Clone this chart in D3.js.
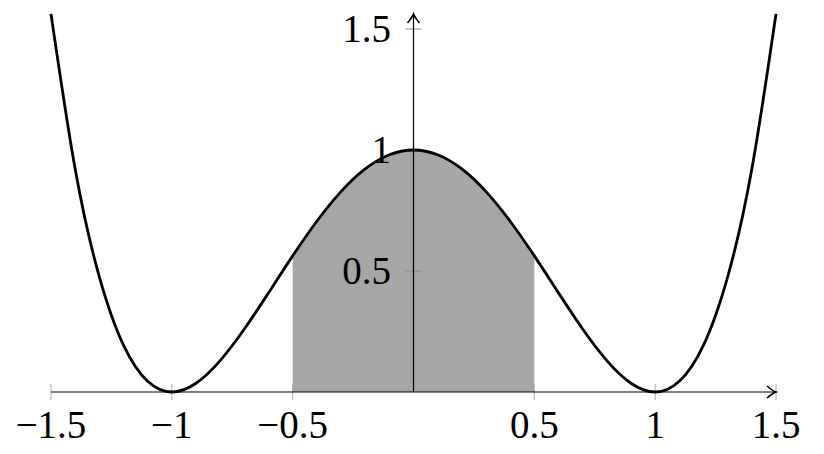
<!DOCTYPE html>
<html>
<head>
<meta charset="utf-8">
<script src="https://cdn.jsdelivr.net/npm/d3@7"></script>
<style>
  body { margin: 0; background: #fff; }
  text { font-family: "Liberation Serif", "DejaVu Serif", serif; }
</style>
</head>
<body>
<div id="chart"></div>
<script>
// curve samples
var xs = [-1.5, -1.4, -1.3, -1.2, -1.1, -1.0, -0.9, -0.8, -0.7, -0.6, -0.5, -0.4, -0.3, -0.2, -0.1,
          0, 0.1, 0.2, 0.3, 0.4, 0.5, 0.6, 0.7, 0.8, 0.9, 1.0, 1.1, 1.2, 1.3, 1.4, 1.5];
var ys = [1.5625, 0.9216, 0.4761, 0.1936, 0.0441, 0, 0.0361, 0.1296, 0.2601, 0.4096, 0.5625, 0.7056, 0.8281, 0.9216, 0.9801,
          1, 0.9801, 0.9216, 0.8281, 0.7056, 0.5625, 0.4096, 0.2601, 0.1296, 0.0361, 0, 0.0441, 0.1936, 0.4761, 0.9216, 1.5625];
var shadeFrom = -0.5, shadeTo = 0.5;
var xTicks = [-1.5, -1, -0.5, 0.5, 1, 1.5];
var yTicks = [0.5, 1, 1.5];

var svg_dx = 824, svg_dy = 454;

var x = d3.scaleLinear().domain([-1.5, 1.5]).range([51, 776]),
    y = d3.scaleLinear().domain([0, 1]).range([392, 150]);

var fmt = function (d) { return String(d).replace("-", "\u2212"); };

var svg = d3.select("#chart")
            .append("svg")
            .attr("width", svg_dx)
            .attr("height", svg_dy);

var pts = xs.map(function (v, i) { return {x: v, y: ys[i]}; });
var shadePts = pts.filter(function (d) { return d.x >= shadeFrom - 1e-9 && d.x <= shadeTo + 1e-9; });

// shaded region
svg.append("path")
   .datum(shadePts)
   .attr("fill", "#a6a6a6")
   .attr("d", d3.area().curve(d3.curveNatural)
                .x(function (d) { return x(d.x); })
                .y0(y(0))
                .y1(function (d) { return y(d.y); }));

// ticks (gray)
svg.append("g").selectAll("line")
   .data(xTicks).enter().append("line")
   .attr("x1", function (d) { return x(d); })
   .attr("x2", function (d) { return x(d); })
   .attr("y1", y(0) - 8).attr("y2", y(0) + 8)
   .attr("stroke", "#aaa").attr("stroke-width", 1);

svg.append("g").selectAll("line")
   .data(yTicks).enter().append("line")
   .attr("x1", x(0) - 8).attr("x2", x(0) + 8)
   .attr("y1", function (d) { return y(d); })
   .attr("y2", function (d) { return y(d); })
   .attr("stroke", "#888").attr("stroke-width", 1);

// axes
svg.append("line")
   .attr("x1", x(-1.5)).attr("x2", x(1.5) - 1)
   .attr("y1", y(0)).attr("y2", y(0))
   .attr("stroke", "#000").attr("stroke-width", 1.2);
svg.append("line")
   .attr("x1", x(0)).attr("x2", x(0))
   .attr("y1", y(0)).attr("y2", 15)
   .attr("stroke", "#000").attr("stroke-width", 1.2);

// arrow heads
var ax = x(1.5), ay = y(0);
svg.append("path")
   .attr("d", "M" + (ax - 9) + "," + (ay - 6) + " Q" + (ax - 3) + "," + (ay - 1) + " " + ax + "," + ay +
              " Q" + (ax - 3) + "," + (ay + 1) + " " + (ax - 9) + "," + (ay + 6))
   .attr("fill", "none").attr("stroke", "#000").attr("stroke-width", 1.6);
var bx = x(0), by = 14;
svg.append("path")
   .attr("d", "M" + (bx - 6) + "," + (by + 9) + " Q" + (bx - 1) + "," + (by + 3) + " " + bx + "," + by +
              " Q" + (bx + 1) + "," + (by + 3) + " " + (bx + 6) + "," + (by + 9))
   .attr("fill", "none").attr("stroke", "#000").attr("stroke-width", 1.6);

// curve
svg.append("path")
   .datum(pts)
   .attr("fill", "none")
   .attr("stroke", "#000")
   .attr("stroke-width", 2.8)
   .attr("stroke-linejoin", "round")
   .attr("d", d3.line().curve(d3.curveNatural)
                .x(function (d) { return x(d.x); })
                .y(function (d) { return y(d.y); }));

// labels
svg.append("g").selectAll("text")
   .data(xTicks).enter().append("text")
   .attr("x", function (d) { return x(d); })
   .attr("y", 438)
   .attr("text-anchor", "middle")
   .style("font-size", "39px")
   .text(fmt);

svg.append("g").selectAll("text")
   .data(yTicks).enter().append("text")
   .attr("x", 391)
   .attr("y", function (d) { return y(d) + 13; })
   .attr("text-anchor", "end")
   .style("font-size", "39px")
   .text(fmt);
</script>
</body>
</html>
